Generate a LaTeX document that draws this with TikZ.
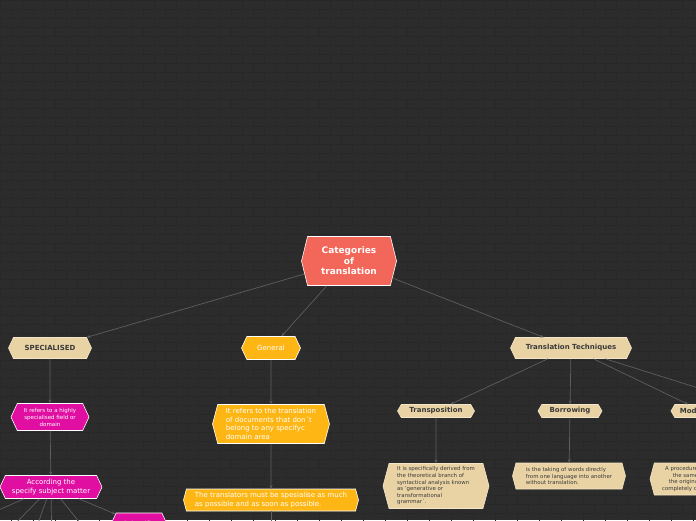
\documentclass[tikz,border=0pt]{standalone}
\usepackage{fontspec}
\setmainfont{DejaVu Sans}
\usetikzlibrary{shapes.symbols,arrows.meta}
\definecolor{bgdark}{HTML}{2C2C2C}
\definecolor{brickline}{HTML}{282828}
\definecolor{salmon}{HTML}{F2675A}
\definecolor{beige}{HTML}{E9D3A4}
\definecolor{amber}{HTML}{FDB614}
\definecolor{mmpink}{HTML}{E00FA2}
\definecolor{edgegray}{HTML}{5E5E5E}
\definecolor{darktext}{HTML}{3A3A3A}
\tikzset{
  hexnode/.style={signal, signal to=west and east, signal pointer angle=130,
    draw=white, line width=0.6pt, inner sep=1pt, align=center},
  rootnode/.style={hexnode, fill=salmon, text=white, signal pointer angle=152,
    font=\bfseries\fontsize{9}{10.5}\selectfont, minimum width=95, minimum height=49},
  beigetopic/.style={hexnode, fill=beige, draw=beige!60!white, text=darktext,
    font=\bfseries\fontsize{7}{8.5}\selectfont, minimum height=21},
  beigesub/.style={beigetopic, minimum height=13, signal pointer angle=120},
  beigenote/.style={hexnode, fill=beige, draw=beige!60!white, text=darktext,
    font=\fontsize{5.4}{6.6}\selectfont, align=left, signal pointer angle=150},
  ambertopic/.style={hexnode, fill=amber, text=white,
    font=\fontsize{7}{8.5}\selectfont, minimum height=23},
  ambernote/.style={hexnode, fill=amber, text=white, align=left,
    font=\fontsize{7}{8.6}\selectfont, signal pointer angle=150},
  pinktopic/.style={hexnode, fill=mmpink, text=white,
    font=\fontsize{7}{8.5}\selectfont},
  pinknote/.style={hexnode, fill=mmpink, text=white,
    font=\fontsize{5.5}{7}\selectfont},
  edge/.style={draw=edgegray, line width=0.7pt, -{Stealth[length=3.5pt,width=3pt]}},
  plainedge/.style={draw=edgegray, line width=0.7pt}
}
\begin{document}
\begin{tikzpicture}[x=1pt,y=-1pt]
  \useasboundingbox (0,0) rectangle (696,520);
  \clip (0,0) rectangle (696,520);
  \fill[bgdark] (0,0) rectangle (696,520);
  % brick background
  \foreach \r in {0,...,58} {
    \draw[brickline,line width=0.5pt] (0,\r*9) -- (696,\r*9);
    \pgfmathsetmacro\off{mod(\r,2)*11}
    \foreach \c in {0,...,32}
      \draw[brickline,line width=0.5pt] (\c*22+\off,\r*9) -- ++(0,9);
  }

  % main topic
  \node[rootnode] (root) at (349,261) {Categories\\of\\translation};

  % specialised branch
  \node[beigetopic, minimum width=83] (spec) at (50,348) {SPECIALISED};
  \node[pinknote, minimum width=78, minimum height=27] (specfield) at (50,417)
    {It refers to a highly\\specialised field or\\domain};
  \node[pinktopic, minimum width=102, minimum height=23] (subject) at (51,487)
    {According the\\specify subject matter};
  \node[pinktopic, minimum width=56, minimum height=22] (scient) at (139,524) {Scientific};
  \coordinate (subA) at (-70,540);
  \coordinate (subB) at (-20,560);
  \coordinate (subC) at (25,560);
  \coordinate (subD) at (52,560);
  \coordinate (subE) at (110,560);

  % general branch
  \node[ambertopic, minimum width=59] (general) at (271,348) {General};
  \node[ambernote, minimum width=117, minimum height=39] (gendef) at (271,424)
    {It refers to the translation\\of documents that don´t\\belong to any specifyc\\domain area};
  \node[ambernote, minimum width=175, minimum height=22] (genmust) at (271,500)
    {The translators must be spesialise as much\\as possible and as soon as possible.};
  \coordinate (genbelow) at (271,540);

  % translation techniques branch
  \node[beigetopic, minimum width=121] (tech) at (571,348) {Translation Techniques};
  \node[beigesub, minimum width=77] (transp) at (436,411) {Transposition};
  \node[beigesub, minimum width=64] (borrow) at (570,411) {Borrowing};
  \node[beigesub, minimum width=62] (modul) at (702,411) {Modulation};
  \coordinate (techmore) at (800,420);
  \node[beigenote, minimum width=106, minimum height=45] (transpdef) at (436,486)
    {It is specifically derived from\\the theoretical branch of\\syntactical analysis known\\ as 'generative or\\ transformational\\grammar´.};
  \node[beigenote, minimum width=113, minimum height=26] (borrowdef) at (569,476)
    {is the taking of words directly\\from one language into another\\without translation.};
  \node[beigenote, align=center, minimum width=104, minimum height=32] (moduldef) at (702,479)
    {A procedure that replicates\\the same situation as\\the original, whilst using\\completely different wording.};

  % connectors
  \draw[edge] (root) -- (spec);
  \draw[edge] (root) -- (general);
  \draw[edge] (root) -- (tech);
  \draw[edge] (spec) -- (specfield);
  \draw[edge] (specfield) -- (subject);
  \draw[edge] (subject) -- (scient);
  \foreach \s in {subA,subB,subC,subD,subE}
    \draw[plainedge] (subject) -- (\s);
  \draw[edge] (general) -- (gendef);
  \draw[edge] (gendef) -- (genmust);
  \draw[plainedge] (genmust) -- (genbelow);
  \draw[edge] (tech) -- (transp);
  \draw[edge] (tech) -- (borrow);
  \draw[edge] (tech) -- (modul);
  \draw[plainedge] (tech) -- (techmore);
  \draw[edge] (transp) -- (transpdef);
  \draw[edge] (borrow) -- (borrowdef);
  \draw[edge] (modul) -- (moduldef);
\end{tikzpicture}
\end{document}
